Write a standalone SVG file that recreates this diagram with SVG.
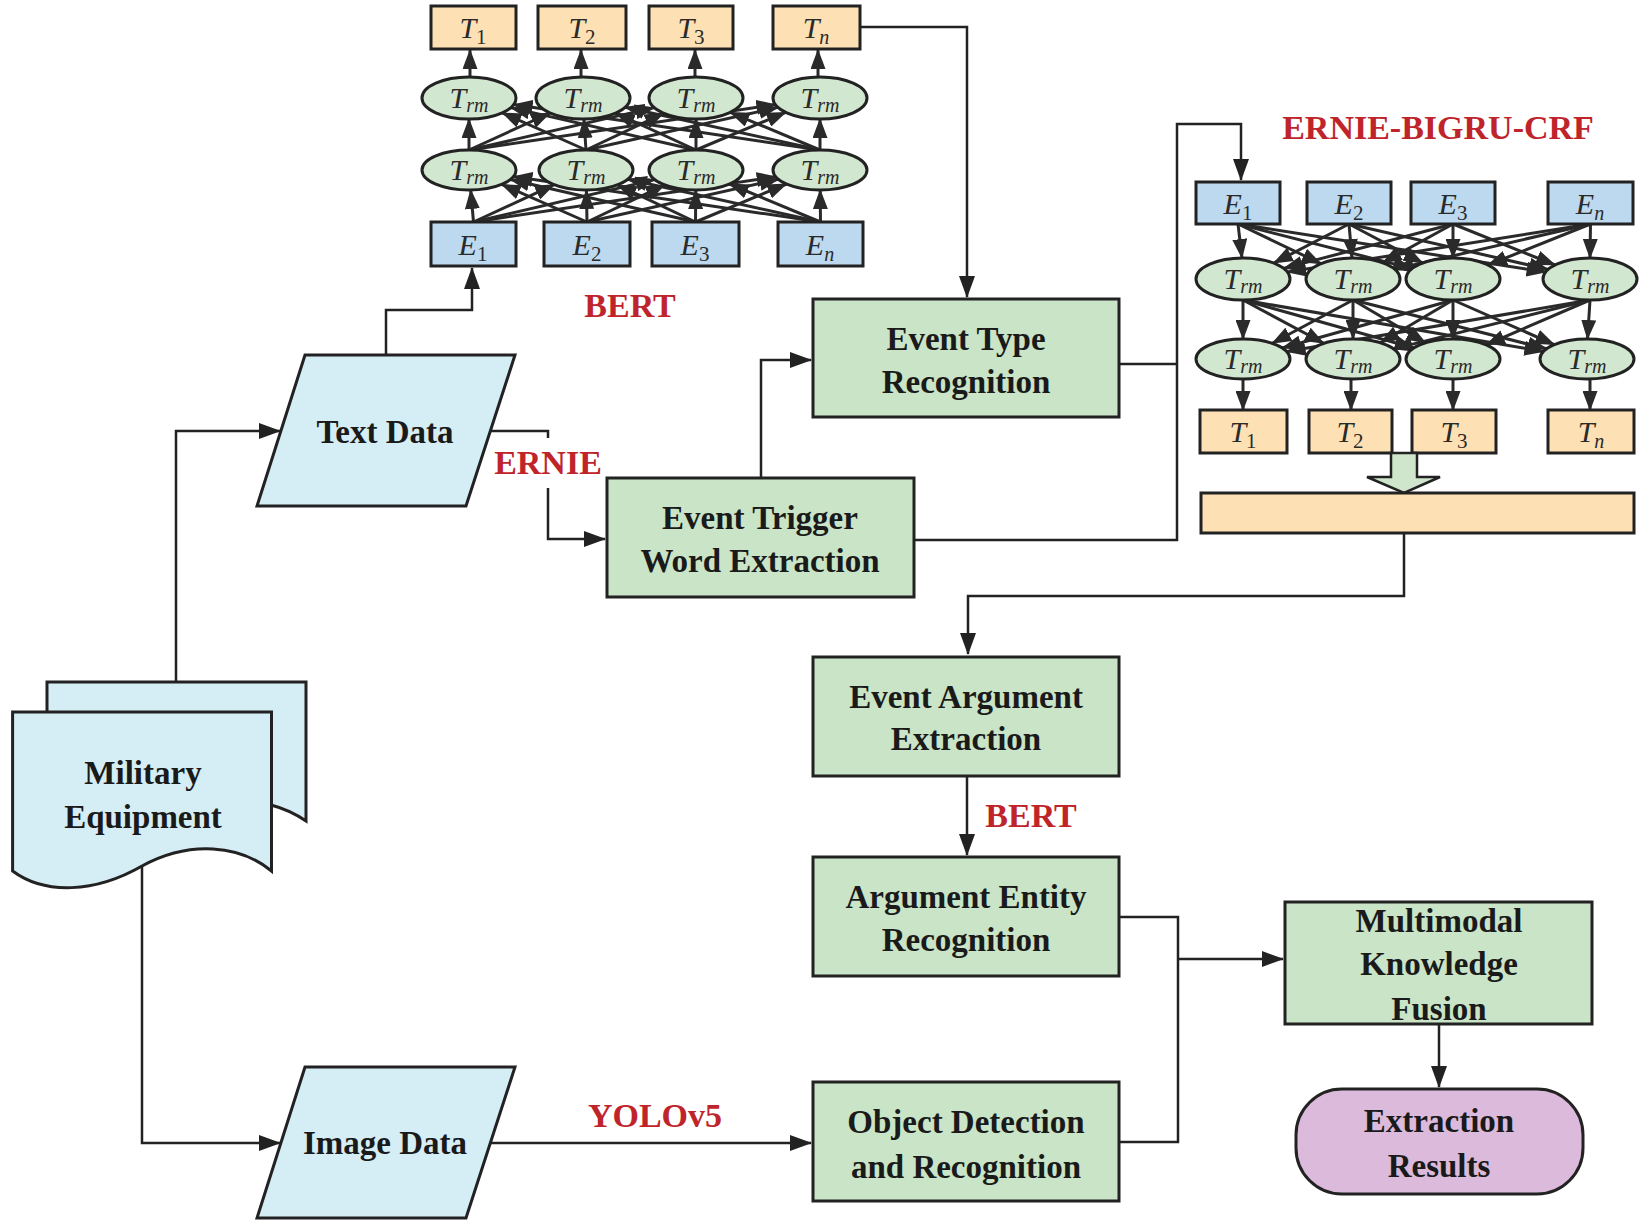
<svg xmlns="http://www.w3.org/2000/svg" width="1650" height="1222" viewBox="0 0 1650 1222">
<style>
.box{fill:#c9e4c6;stroke:#222;stroke-width:3}
.data{fill:#d5edf5;stroke:#222;stroke-width:3}
.eb{fill:#bcd9f0;stroke:#222;stroke-width:3}
.tb{fill:#fde0b3;stroke:#222;stroke-width:3}
.trm{fill:#d2e7cf;stroke:#222;stroke-width:3}
.lbl{font-family:"Liberation Serif","Times New Roman",serif;font-weight:bold;font-size:33px;fill:#1a1a1a;text-anchor:middle}
.red{font-family:"Liberation Serif","Times New Roman",serif;font-weight:bold;font-size:34px;fill:#c0242b;text-anchor:middle}
.m{font-family:"Liberation Serif","Times New Roman",serif;font-style:italic;font-size:30px;fill:#2a2a2a;text-anchor:middle}
.s{font-size:20px}
.d{font-size:21px;font-style:normal}
.c{fill:none;stroke:#222;stroke-width:2.5}
.n{fill:none;stroke:#2a2a2a;stroke-width:3;marker-end:url(#as)}
</style>
<defs>
<marker id="ah" markerUnits="userSpaceOnUse" markerWidth="22" markerHeight="16" refX="21" refY="8" orient="auto"><path d="M0,0 L22,8 L0,16 z" fill="#222"/></marker>
<marker id="as" markerUnits="userSpaceOnUse" markerWidth="20" markerHeight="15" refX="19" refY="7.5" orient="auto"><path d="M0,0 L20,7.5 L0,15 z" fill="#2a2a2a"/></marker>
</defs>
<rect width="1650" height="1222" fill="#fff"/>

<g id="connectors">
<g id="main-links">
<path class="c" d="M860,27 H967 V297" marker-end="url(#ah)"/>
<path class="c" d="M386,355 V310 H472 V268" marker-end="url(#ah)"/>
<path class="c" d="M176,682 V431 H280" marker-end="url(#ah)"/>
<path class="c" d="M490,431 H548 V438"/>
<path class="c" d="M548,488 V539 H605" marker-end="url(#ah)"/>
<path class="c" d="M761,478 V360 H811" marker-end="url(#ah)"/>
<path class="c" d="M914,540 H1177 V124 H1241 V180" marker-end="url(#ah)"/>
<path class="c" d="M1119,364 H1177"/>
<path class="c" d="M1404,533 V596 H968 V654" marker-end="url(#ah)"/>
<path class="c" d="M967,776 V855" marker-end="url(#ah)"/>
<path class="c" d="M1119,917 H1178 V1142 H1119"/>
<path class="c" d="M1178,959 H1283" marker-end="url(#ah)"/>
<path class="c" d="M1439,1024 V1087" marker-end="url(#ah)"/>
<path class="c" d="M142,866 V1143 H280" marker-end="url(#ah)"/>
<path class="c" d="M490,1143 H811" marker-end="url(#ah)"/>
</g>
<g id="bert-links">
<path class="n" d="M473.5,222 L470.7,190"/><path class="n" d="M587,222 L501.7,184.4"/><path class="n" d="M695.5,222 L510.4,179.5"/><path class="n" d="M820.5,222 L513.4,176.6"/>
<path class="n" d="M473.5,222 L554.2,184.7"/><path class="n" d="M587,222 L586.4,190"/><path class="n" d="M695.5,222 L617.4,184.9"/><path class="n" d="M820.5,222 L627.7,179.2"/>
<path class="n" d="M473.5,222 L654.8,179.6"/><path class="n" d="M587,222 L664.7,184.9"/><path class="n" d="M695.5,222 L695.8,190"/><path class="n" d="M820.5,222 L729.5,184"/>
<path class="n" d="M473.5,222 L775.7,176.7"/><path class="n" d="M587,222 L778.4,179.3"/><path class="n" d="M695.5,222 L786.5,184"/><path class="n" d="M820.5,222 L820.2,190"/>
<path class="n" d="M469,150 L469,119"/><path class="n" d="M586,150 L502.3,112.8"/><path class="n" d="M696,150 L510.8,107.6"/><path class="n" d="M820,150 L513.6,104.6"/>
<path class="n" d="M469,150 L550.1,113"/><path class="n" d="M586,150 L583.9,119"/><path class="n" d="M696,150 L615.7,113.1"/><path class="n" d="M820,150 L625.2,107.3"/>
<path class="n" d="M469,150 L654.2,107.6"/><path class="n" d="M586,150 L663.7,113.3"/><path class="n" d="M696,150 L696,119"/><path class="n" d="M820,150 L730.3,112.4"/>
<path class="n" d="M469,150 L775.4,104.6"/><path class="n" d="M586,150 L777.9,107.4"/><path class="n" d="M696,150 L785.7,112.4"/><path class="n" d="M820,150 L820,119"/>
<path class="n" d="M470,77 V50"/><path class="n" d="M581,77 V50"/><path class="n" d="M695,77 V50"/><path class="n" d="M818,77 V50"/>
</g>
<g id="ernie-links">
<path class="n" d="M1238,224 L1242,258"/><path class="n" d="M1349,224 L1273.7,263.1"/><path class="n" d="M1453,224 L1283.5,268.4"/><path class="n" d="M1590.5,224 L1287.3,272"/>
<path class="n" d="M1238,224 L1320.9,263.7"/><path class="n" d="M1349,224 L1352,258"/><path class="n" d="M1453,224 L1382.6,262.7"/><path class="n" d="M1590.5,224 L1394.7,269.3"/>
<path class="n" d="M1238,224 L1412.2,268.6"/><path class="n" d="M1349,224 L1422.7,263"/><path class="n" d="M1453,224 L1453,258"/><path class="n" d="M1590.5,224 L1488,265"/>
<path class="n" d="M1238,224 L1545.6,272.1"/><path class="n" d="M1349,224 L1548.1,269.4"/><path class="n" d="M1453,224 L1555,265"/><path class="n" d="M1590.5,224 L1590,258"/>
<path class="n" d="M1243,300 L1243,339"/><path class="n" d="M1353,300 L1272.2,343.3"/><path class="n" d="M1453,300 L1282.2,348"/><path class="n" d="M1590,300 L1286.6,351.6"/>
<path class="n" d="M1243,300 L1323.8,343.3"/><path class="n" d="M1353,300 L1353,339"/><path class="n" d="M1453,300 L1380.5,342.8"/><path class="n" d="M1590,300 L1393.6,348.9"/>
<path class="n" d="M1243,300 L1413.8,348"/><path class="n" d="M1353,300 L1425.5,342.8"/><path class="n" d="M1453,300 L1453,339"/><path class="n" d="M1590,300 L1486,344.8"/>
<path class="n" d="M1243,300 L1543.4,351.5"/><path class="n" d="M1353,300 L1546.6,348.8"/><path class="n" d="M1453,300 L1554.3,344.6"/><path class="n" d="M1590,300 L1587.5,339"/>
<path class="n" d="M1243,379 V410"/><path class="n" d="M1351,379 V410"/><path class="n" d="M1453,379 V410"/><path class="n" d="M1590,379 V410"/>
</g>
</g>

<g id="bert">
<rect class="tb" x="431" y="6" width="85" height="43"/><text class="m" x="473" y="38">T<tspan class="d" dy="6">1</tspan></text>
<rect class="tb" x="538" y="6" width="88" height="43"/><text class="m" x="582" y="38">T<tspan class="d" dy="6">2</tspan></text>
<rect class="tb" x="649" y="6" width="84" height="43"/><text class="m" x="691" y="38">T<tspan class="d" dy="6">3</tspan></text>
<rect class="tb" x="773" y="6" width="87" height="43"/><text class="m" x="816" y="38">T<tspan class="s" dy="6">n</tspan></text>
<ellipse class="trm" cx="469" cy="98" rx="47" ry="21"/><text class="m" x="469" y="108">T<tspan class="s" font-size="22" dy="4">rm</tspan></text>
<ellipse class="trm" cx="583" cy="98" rx="47" ry="21"/><text class="m" x="583" y="108">T<tspan class="s" font-size="22" dy="4">rm</tspan></text>
<ellipse class="trm" cx="696" cy="98" rx="47" ry="21"/><text class="m" x="696" y="108">T<tspan class="s" font-size="22" dy="4">rm</tspan></text>
<ellipse class="trm" cx="820" cy="98" rx="47" ry="21"/><text class="m" x="820" y="108">T<tspan class="s" font-size="22" dy="4">rm</tspan></text>
<ellipse class="trm" cx="469" cy="170" rx="47" ry="20"/><text class="m" x="469" y="180">T<tspan class="s" font-size="22" dy="4">rm</tspan></text>
<ellipse class="trm" cx="586" cy="170" rx="47" ry="20"/><text class="m" x="586" y="180">T<tspan class="s" font-size="22" dy="4">rm</tspan></text>
<ellipse class="trm" cx="696" cy="170" rx="47" ry="20"/><text class="m" x="696" y="180">T<tspan class="s" font-size="22" dy="4">rm</tspan></text>
<ellipse class="trm" cx="820" cy="170" rx="47" ry="20"/><text class="m" x="820" y="180">T<tspan class="s" font-size="22" dy="4">rm</tspan></text>
<rect class="eb" x="431" y="222" width="85" height="44"/><text class="m" x="473" y="255">E<tspan class="d" dy="6">1</tspan></text>
<rect class="eb" x="544" y="222" width="86" height="44"/><text class="m" x="587" y="255">E<tspan class="d" dy="6">2</tspan></text>
<rect class="eb" x="652" y="222" width="87" height="44"/><text class="m" x="695" y="255">E<tspan class="d" dy="6">3</tspan></text>
<rect class="eb" x="778" y="222" width="85" height="44"/><text class="m" x="820" y="255">E<tspan class="s" dy="6">n</tspan></text>
<text class="red" x="630" y="317">BERT</text>
</g>

<g id="ernie-bigru-crf">
<text class="red" x="1438" y="139">ERNIE-BIGRU-CRF</text>
<rect class="eb" x="1196" y="182" width="84" height="42"/><text class="m" x="1238" y="214">E<tspan class="d" dy="6">1</tspan></text>
<rect class="eb" x="1307" y="182" width="84" height="42"/><text class="m" x="1349" y="214">E<tspan class="d" dy="6">2</tspan></text>
<rect class="eb" x="1411" y="182" width="84" height="42"/><text class="m" x="1453" y="214">E<tspan class="d" dy="6">3</tspan></text>
<rect class="eb" x="1548" y="182" width="85" height="42"/><text class="m" x="1590" y="214">E<tspan class="s" dy="6">n</tspan></text>
<ellipse class="trm" cx="1243" cy="279" rx="47" ry="21"/><text class="m" x="1243" y="289">T<tspan class="s" font-size="22" dy="4">rm</tspan></text>
<ellipse class="trm" cx="1353" cy="279" rx="47" ry="21"/><text class="m" x="1353" y="289">T<tspan class="s" font-size="22" dy="4">rm</tspan></text>
<ellipse class="trm" cx="1453" cy="279" rx="47" ry="21"/><text class="m" x="1453" y="289">T<tspan class="s" font-size="22" dy="4">rm</tspan></text>
<ellipse class="trm" cx="1590" cy="279" rx="47" ry="21"/><text class="m" x="1590" y="289">T<tspan class="s" font-size="22" dy="4">rm</tspan></text>
<ellipse class="trm" cx="1243" cy="359" rx="47" ry="20"/><text class="m" x="1243" y="369">T<tspan class="s" font-size="22" dy="4">rm</tspan></text>
<ellipse class="trm" cx="1353" cy="359" rx="47" ry="20"/><text class="m" x="1353" y="369">T<tspan class="s" font-size="22" dy="4">rm</tspan></text>
<ellipse class="trm" cx="1453" cy="359" rx="47" ry="20"/><text class="m" x="1453" y="369">T<tspan class="s" font-size="22" dy="4">rm</tspan></text>
<ellipse class="trm" cx="1587" cy="359" rx="47" ry="20"/><text class="m" x="1587" y="369">T<tspan class="s" font-size="22" dy="4">rm</tspan></text>
<rect class="tb" x="1200" y="410" width="87" height="43"/><text class="m" x="1243" y="442">T<tspan class="d" dy="6">1</tspan></text>
<rect class="tb" x="1309" y="410" width="83" height="43"/><text class="m" x="1350" y="442">T<tspan class="d" dy="6">2</tspan></text>
<rect class="tb" x="1412" y="410" width="84" height="43"/><text class="m" x="1454" y="442">T<tspan class="d" dy="6">3</tspan></text>
<rect class="tb" x="1548" y="410" width="86" height="43"/><text class="m" x="1591" y="442">T<tspan class="s" dy="6">n</tspan></text>
<path d="M1391,453 V477 H1367 L1404,493 L1440,477 H1417 V453 Z" fill="#cfe6cc" stroke="#222" stroke-width="2.5"/>
<rect class="tb" x="1201" y="493" width="433" height="40"/>
</g>

<g id="military-equipment">
<path class="data" d="M47,712 V682 H306 V821 Q290,810 271,805"/>
<path class="data" d="M12.6,712 H271.5 V871 C240,845 190,840 142,866 C95,893 45,895 12.6,871 Z"/>
<text class="lbl" x="143" y="784">Military</text>
<text class="lbl" x="143" y="828">Equipment</text>
</g>

<g id="text-data">
<path class="data" d="M305,355 H515 L466,506 H257 Z"/>
<text class="lbl" x="385" y="443">Text Data</text>
</g>
<text class="red" x="548" y="474">ERNIE</text>

<g id="image-data">
<path class="data" d="M305,1067 H515 L466,1218 H257 Z"/>
<text class="lbl" x="385" y="1154">Image Data</text>
</g>
<text class="red" x="655" y="1127">YOLOv5</text>

<g id="event-trigger">
<rect class="box" x="607" y="478" width="307" height="119"/>
<text class="lbl" x="760" y="529">Event Trigger</text>
<text class="lbl" x="760" y="572">Word Extraction</text>
</g>

<g id="event-type">
<rect class="box" x="813" y="299" width="306" height="118"/>
<text class="lbl" x="966" y="350">Event Type</text>
<text class="lbl" x="966" y="393">Recognition</text>
</g>

<g id="event-argument">
<rect class="box" x="813" y="657" width="306" height="119"/>
<text class="lbl" x="966" y="708">Event Argument</text>
<text class="lbl" x="966" y="750">Extraction</text>
</g>
<text class="red" x="1031" y="827">BERT</text>

<g id="argument-entity">
<rect class="box" x="813" y="857" width="306" height="119"/>
<text class="lbl" x="966" y="908">Argument Entity</text>
<text class="lbl" x="966" y="951">Recognition</text>
</g>

<g id="object-detection">
<rect class="box" x="813" y="1082" width="306" height="119"/>
<text class="lbl" x="966" y="1133">Object Detection</text>
<text class="lbl" x="966" y="1178">and Recognition</text>
</g>

<g id="multimodal-fusion">
<rect class="box" x="1285" y="902" width="307" height="122"/>
<text class="lbl" x="1439" y="932">Multimodal</text>
<text class="lbl" x="1439" y="975">Knowledge</text>
<text class="lbl" x="1439" y="1020">Fusion</text>
</g>

<g id="extraction-results">
<rect x="1296" y="1089" width="287" height="105" rx="46" ry="46" fill="#dcbadb" stroke="#222" stroke-width="3"/>
<text class="lbl" x="1439" y="1132">Extraction</text>
<text class="lbl" x="1439" y="1177">Results</text>
</g>
</svg>
